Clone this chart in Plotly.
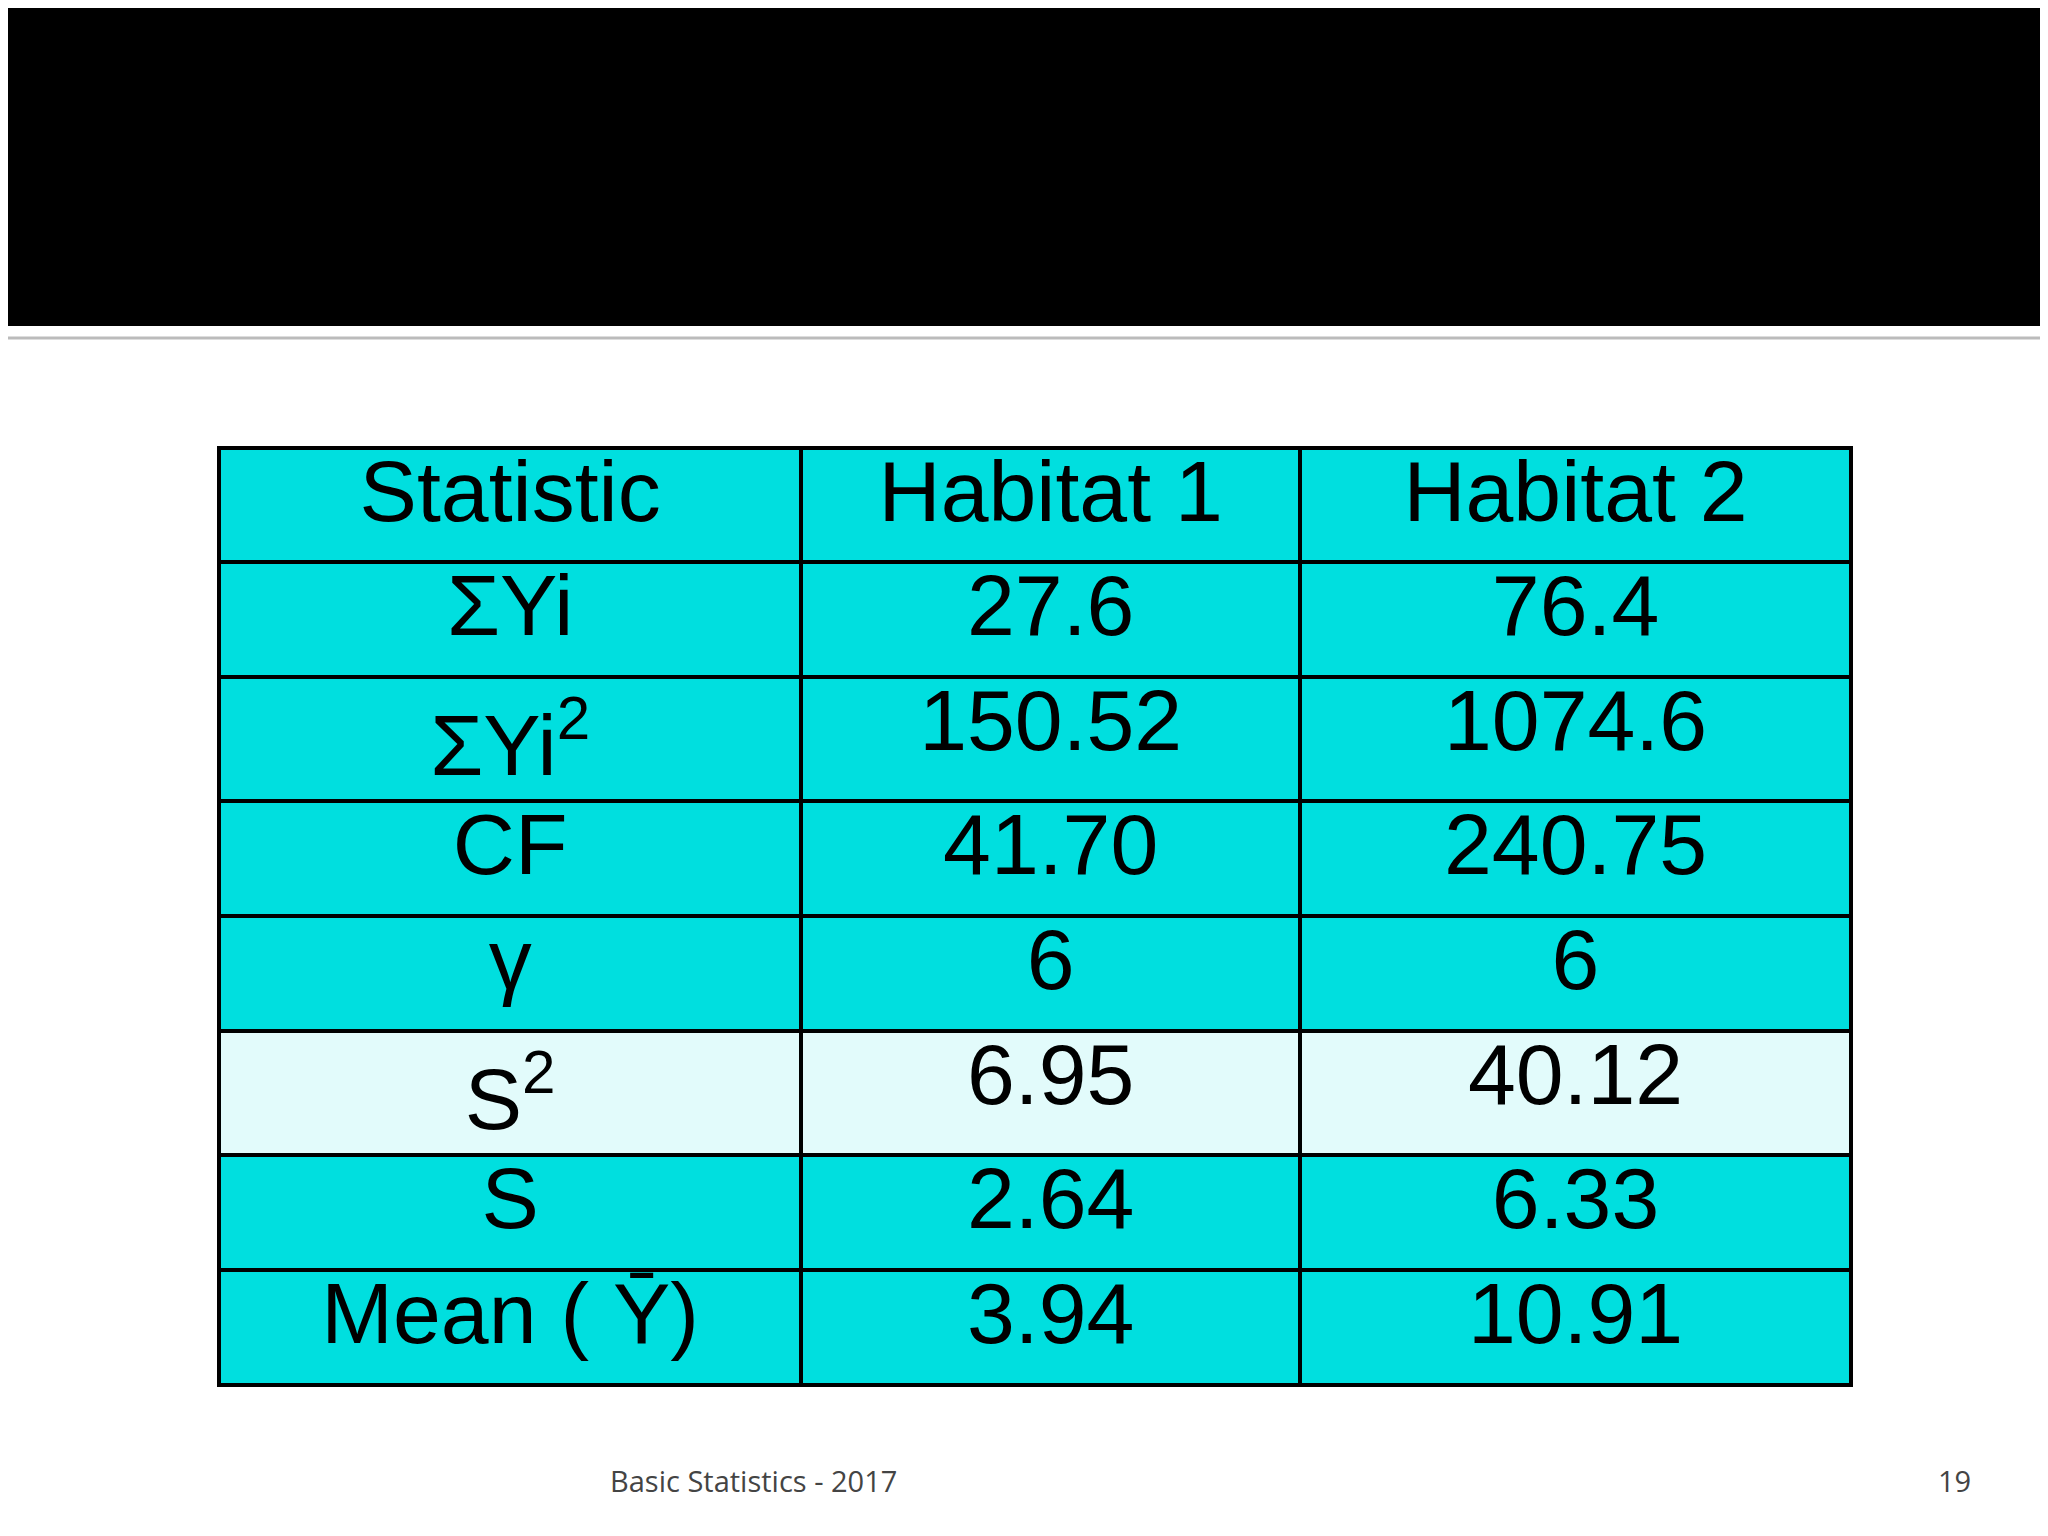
import plotly.graph_objects as go

headers = ["Statistic", "Habitat 1", "Habitat 2"]
statistics = ["ΣYi", "ΣYi<sup>2</sup>", "CF", "γ", "S<sup>2</sup>", "S", "Mean ( Ȳ)"]
habitat1 = ["27.6", "150.52", "41.70", "6", "6.95", "2.64", "3.94"]
habitat2 = ["76.4", "1074.6", "240.75", "6", "40.12", "6.33", "10.91"]
highlight_row = 4  # S^2 row is pale

cyan = "#00DFDF"
pale = "#E2FBFB"
row_fill = [pale if i == highlight_row else cyan for i in range(len(statistics))]

fig = go.Figure()

fig.add_trace(go.Table(
    domain=dict(x=[211 / 2048, 1843 / 2048], y=[1 - 1420 / 1536, 1 - 440 / 1536]),
    columnwidth=[446, 382, 422],
    header=dict(
        values=headers,
        fill_color=cyan,
        line=dict(color="black", width=4),
        font=dict(family="Liberation Sans, Arial", size=86, color="black"),
        align="center",
        height=114,
    ),
    cells=dict(
        values=[statistics, habitat1, habitat2],
        fill_color=[row_fill, row_fill, row_fill],
        line=dict(color="black", width=4),
        font=dict(family="Liberation Sans, Arial", size=86, color="black"),
        align="center",
        height=115,
    ),
))

# black title band and grey rule
fig.add_shape(type="rect", xref="paper", yref="paper", x0=0, x1=1, y0=1 - 318 / 1536, y1=1,
              fillcolor="black", line_width=0, layer="below")
fig.add_shape(type="line", xref="paper", yref="paper", x0=0, x1=1,
              y0=1 - 330 / 1536, y1=1 - 330 / 1536, line=dict(color="#BBBBBB", width=3))

fig.add_annotation(text="Basic Statistics - 2017", xref="paper", yref="paper",
                   x=745 / 2048, y=1 - 1494 / 1536, showarrow=False,
                   font=dict(family="Open Sans", size=29, color="#444444"))
fig.add_annotation(text="19", xref="paper", yref="paper",
                   x=1965 / 2048, y=1 - 1494 / 1536, showarrow=False,
                   font=dict(family="Open Sans", size=29, color="#444444"))

fig.update_layout(width=2048, height=1536, margin=dict(l=0, r=0, t=0, b=0),
                  paper_bgcolor="white", plot_bgcolor="white")

fig.write_html("out.html")
